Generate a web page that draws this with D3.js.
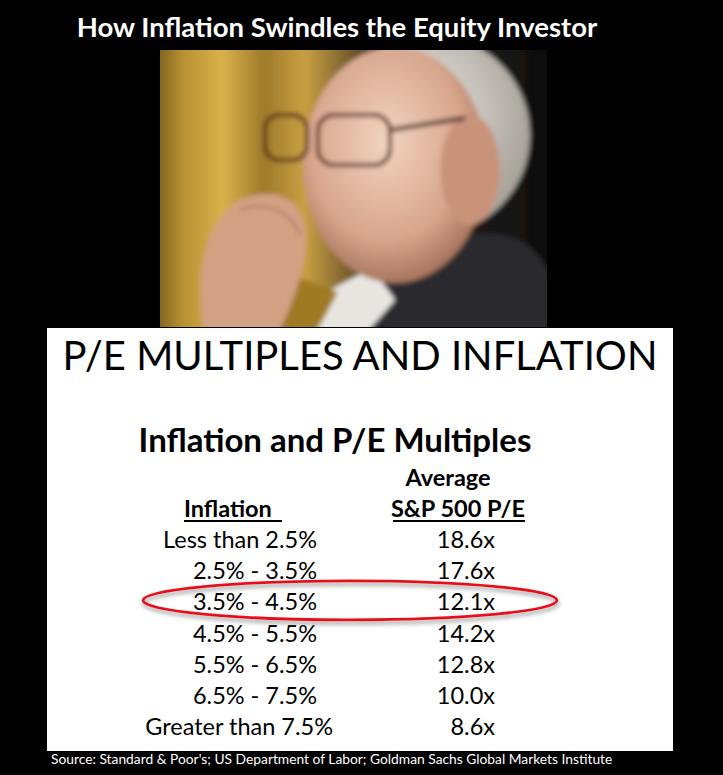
<!DOCTYPE html>
<meta charset="UTF-8">
<style>
  body { margin: 0; background: #000; }
  svg { display: block; }
  text { font-family: Lato, "Liberation Sans", sans-serif; }
</style>
<body>
<script src="https://d3js.org/d3.v7.min.js"></script>
<script>

// table data
var inflationBands = ["Less than 2.5%", "2.5% - 3.5%", "3.5% - 4.5%", "4.5% - 5.5%",
                      "5.5% - 6.5%", "6.5% - 7.5%", "Greater than 7.5%"];
var peMultiples = [18.6, 17.6, 12.1, 14.2, 12.8, 10.0, 8.6];
var highlightBand = "3.5% - 4.5%";

var headline = "How Inflation Swindles the Equity Investor";
var slideTitle = "P/E MULTIPLES AND INFLATION";
var tableTitle = "Inflation and P/E Multiples";
var colHeaders = ["Inflation", "S&P 500 P/E"];
var sourceNote = "Source: Standard & Poor's; US Department of Labor; Goldman Sachs Global Markets Institute";

var width = 723, height = 775;

var svg = d3.select("body").append("svg")
    .attr("width", width)
    .attr("height", height);

var defs = svg.append("defs");

svg.append("rect")
    .attr("width", width)
    .attr("height", height)
    .attr("fill", "#000");

// headline
txt(svg, headline, 337, 37, 27.5, "middle")
    .attr("font-weight", 700)
    .attr("fill", "#fff");

// ---- photo stand-in (no images available offline) ----
var photo = {x: 160, y: 50, w: 387, h: 277};

var bg = defs.append("linearGradient").attr("id", "bg");
[["0%", "#6b5418"], ["8%", "#b89134"], ["18%", "#d9b14a"], ["28%", "#9d7a2a"],
 ["38%", "#c9a042"], ["55%", "#4a3a22"], ["80%", "#1c1a18"], ["100%", "#0c0c0c"]]
  .forEach(function(s) { bg.append("stop").attr("offset", s[0]).attr("stop-color", s[1]); });

var skin = defs.append("radialGradient").attr("id", "skin")
    .attr("cx", "45%").attr("cy", "40%").attr("r", "60%");
skin.append("stop").attr("offset", "0%").attr("stop-color", "#f2d4c0");
skin.append("stop").attr("offset", "70%").attr("stop-color", "#d7a58c");
skin.append("stop").attr("offset", "100%").attr("stop-color", "#a8765e");

var hair = defs.append("radialGradient").attr("id", "hair")
    .attr("cx", "40%").attr("cy", "40%").attr("r", "60%");
hair.append("stop").attr("offset", "0%").attr("stop-color", "#f4f0ea");
hair.append("stop").attr("offset", "100%").attr("stop-color", "#a9a49c");

defs.append("filter").attr("id", "soft")
  .append("feGaussianBlur").attr("stdDeviation", 2.5);

defs.append("clipPath").attr("id", "photoClip")
  .append("rect")
    .attr("x", photo.x).attr("y", photo.y)
    .attr("width", photo.w).attr("height", photo.h);

var p = svg.append("g")
    .attr("clip-path", "url(#photoClip)")
  .append("g")
    .attr("filter", "url(#soft)");

p.append("rect")
    .attr("x", photo.x - 10).attr("y", photo.y - 10)
    .attr("width", photo.w + 20).attr("height", photo.h + 20)
    .attr("fill", "url(#bg)");

// suit / shoulders
p.append("path")
    .attr("d", "M300,340 C330,290 390,250 470,235 C520,228 560,250 560,340 Z")
    .attr("fill", "#2c2c2e");
// collar + tie
p.append("path")
    .attr("d", "M305,340 L330,290 L372,268 L395,300 L360,340 Z")
    .attr("fill", "#e9e6e2");
p.append("path")
    .attr("d", "M262,340 L300,278 L338,292 L312,340 Z")
    .attr("fill", "#a07a22");
// back of head / hair
p.append("ellipse")
    .attr("cx", 430).attr("cy", 135).attr("rx", 100).attr("ry", 100)
    .attr("fill", "url(#hair)");
// face
p.append("ellipse")
    .attr("cx", 395).attr("cy", 165).attr("rx", 92).attr("ry", 118)
    .attr("fill", "url(#skin)");
p.append("ellipse")
    .attr("cx", 470).attr("cy", 170).attr("rx", 30).attr("ry", 55)
    .attr("fill", "#c9937a");
// glasses
p.append("rect")
    .attr("x", 265).attr("y", 115).attr("width", 42).attr("height", 45).attr("rx", 14)
    .attr("fill", "none").attr("stroke", "#5a2a1a").attr("stroke-width", 4);
p.append("rect")
    .attr("x", 318).attr("y", 115).attr("width", 72).attr("height", 50).attr("rx", 16)
    .attr("fill", "none").attr("stroke", "#5a2a1a").attr("stroke-width", 4);
p.append("path")
    .attr("d", "M390,130 L465,118")
    .attr("stroke", "#3a1a10").attr("stroke-width", 4);
// hand under chin
p.append("path")
    .attr("d", "M205,340 C195,280 200,225 240,200 C275,185 300,200 305,225 C310,250 300,290 275,340 Z")
    .attr("fill", "#d3a184");
p.append("path")
    .attr("d", "M240,210 C265,200 290,210 300,235")
    .attr("fill", "none").attr("stroke", "#a8755c").attr("stroke-width", 2);

// ---- white slide ----
svg.append("rect")
    .attr("x", 47).attr("y", 328)
    .attr("width", 626).attr("height", 423)
    .attr("fill", "#fff");

txt(svg, slideTitle, 360, 370, 40, "middle").attr("fill", "#000");

txt(svg, tableTitle, 335, 452, 33, "middle")
    .attr("font-weight", 700).attr("fill", "#000");

var labelRight = 317, valueRight = 495;

var y = d3.scalePoint()
    .domain(inflationBands)
    .range([548, 735]);

// column headers
txt(svg, "Average", 448, 486, 23.5, "middle")
    .attr("font-weight", 700).attr("fill", "#000");
txt(svg, colHeaders[0], 184, 517, 23.5, "start")
    .attr("font-weight", 700).attr("fill", "#000");
txt(svg, colHeaders[1], 525, 517, 23.5, "end")
    .attr("font-weight", 700).attr("fill", "#000");

[[184, 282], [393, 525]].forEach(function(u) {
  svg.append("line")
      .attr("x1", u[0]).attr("x2", u[1])
      .attr("y1", 521).attr("y2", 521)
      .attr("stroke", "#000").attr("stroke-width", 2);
});

// rows
var rows = svg.append("g");
rows.selectAll("text.band")
  .data(inflationBands)
  .join("text")
    .attr("class", "band")
    .attr("x", function(d, i) {
      return i === inflationBands.length - 1 ? labelRight + 16 : labelRight;
    })
    .attr("y", function(d) { return y(d); })
    .attr("text-anchor", "end")
    .attr("font-size", 23.5)
    .attr("fill", "#000")
    .text(function(d) { return d; });

rows.selectAll("text.pe")
  .data(peMultiples)
  .join("text")
    .attr("class", "pe")
    .attr("x", valueRight)
    .attr("y", function(d, i) { return y(inflationBands[i]); })
    .attr("text-anchor", "end")
    .attr("font-size", 23.5)
    .attr("fill", "#000")
    .text(function(d) { return d3.format(".1f")(d) + "x"; });

// red ring around the highlighted band
var shadow = defs.append("filter").attr("id", "shadow")
    .attr("x", "-10%").attr("y", "-50%").attr("width", "120%").attr("height", "200%");
shadow.append("feDropShadow")
    .attr("dx", 1).attr("dy", 3).attr("stdDeviation", 2)
    .attr("flood-color", "#777").attr("flood-opacity", 0.8);

svg.append("ellipse")
    .attr("cx", 350)
    .attr("cy", y(highlightBand) - 10)
    .attr("rx", 207).attr("ry", 19.5)
    .attr("fill", "none")
    .attr("stroke", "#e8111a")
    .attr("stroke-width", 2.8)
    .attr("filter", "url(#shadow)");

// source line
txt(svg, sourceNote, 51, 764, 13.8, "start").attr("fill", "#fff");

function txt(parent, s, x, yy, size, anchor) {
  return parent.append("text")
      .attr("x", x)
      .attr("y", yy)
      .attr("text-anchor", anchor)
      .attr("font-size", size)
      .text(s);
}

</script>
</body>
